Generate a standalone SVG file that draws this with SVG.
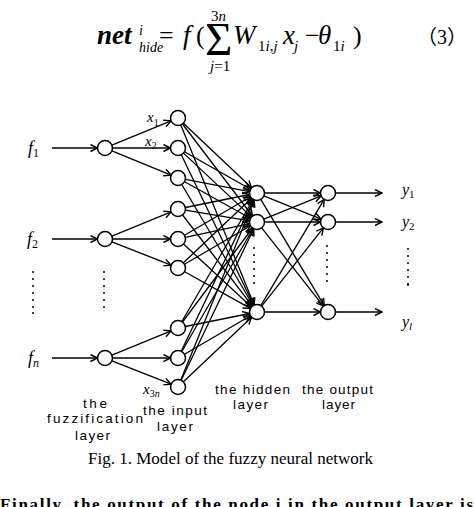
<svg xmlns="http://www.w3.org/2000/svg" width="474" height="507" viewBox="0 0 474 507">
<style>
.n{fill:#fff;stroke:#000;stroke-width:1.5}
.c line{stroke:#000;stroke-width:1.3;marker-end:url(#ah)}
.m{font-family:"Liberation Serif","Times New Roman",serif;fill:#000}
.it{font-style:italic}
.lb{font-family:"Liberation Sans",Arial,sans-serif;font-size:13.5px;fill:#000}
.d{fill:#000}
</style>
<defs>
<marker id="ah" markerUnits="userSpaceOnUse" markerWidth="9" markerHeight="9" viewBox="0 0 9 9" refX="8" refY="4.5" orient="auto">
<path d="M1,1 L8,4.5 L1,8" fill="none" stroke="#000" stroke-width="1.4"/>
</marker>
<g id="dots6"><circle cx="0" cy="0" r="1" class="d"/><circle cx="0" cy="7" r="1" class="d"/><circle cx="0" cy="14" r="1" class="d"/><circle cx="0" cy="21" r="1" class="d"/><circle cx="0" cy="28" r="1" class="d"/><circle cx="0" cy="35" r="1" class="d"/></g>
</defs>
<rect width="474" height="507" fill="#fff"/>

<g id="formula" class="m">
<text x="97" y="44" font-size="27" font-weight="bold" class="it">net</text>
<text x="139" y="35" font-size="14" class="it">i</text>
<text x="139" y="52" font-size="14" class="it">hide</text>
<text x="159" y="44" font-size="26">=</text>
<text x="183" y="44" font-size="27" class="it">f</text>
<text x="196" y="44" font-size="26">(</text>
<text x="205" y="55" font-size="47">Σ</text>
<text x="211" y="21" font-size="15">3<tspan class="it">n</tspan></text>
<text x="210" y="71" font-size="15"><tspan class="it">j</tspan>=1</text>
<text x="233" y="44" font-size="27" class="it">W</text>
<text x="258" y="51" font-size="15">1<tspan class="it">i</tspan>,<tspan class="it">j</tspan></text>
<text x="283" y="44" font-size="27" class="it">x</text>
<text x="294" y="51" font-size="15" class="it">j</text>
<text x="305" y="44" font-size="26">−</text>
<text x="318" y="44" font-size="27" class="it">θ</text>
<text x="333" y="51" font-size="15">1<tspan class="it">i</tspan></text>
<text x="353" y="44" font-size="26">)</text>
<text x="417" y="44" font-size="20" font-family="'Liberation Serif','Noto Sans CJK SC',serif">（3）</text>
</g>

<g class="c" id="connectors">
<line x1="52" y1="148" x2="97.5" y2="148"/>
<line x1="52" y1="239" x2="97.5" y2="239"/>
<line x1="52" y1="358" x2="97.5" y2="358"/>

<line x1="111.9" y1="145.1" x2="171.1" y2="120.9"/>
<line x1="112.5" y1="148" x2="170.5" y2="148"/>
<line x1="111.9" y1="150.9" x2="171.1" y2="175.1"/>
<line x1="111.9" y1="236.1" x2="171.1" y2="211.9"/>
<line x1="112.5" y1="239" x2="170.5" y2="239"/>
<line x1="111.9" y1="241.8" x2="171.1" y2="265.2"/>
<line x1="111.9" y1="355.2" x2="171.1" y2="330.9"/>
<line x1="112.5" y1="358" x2="170.5" y2="358"/>
<line x1="111.9" y1="360.8" x2="171.1" y2="384.2"/>

<line x1="183.4" y1="123.2" x2="251.6" y2="187.8"/>
<line x1="184.5" y1="151.7" x2="250.5" y2="189.3"/>
<line x1="185.4" y1="179.4" x2="249.6" y2="191.6"/>
<line x1="185.4" y1="207.5" x2="249.6" y2="194.5"/>
<line x1="184.5" y1="235.2" x2="250.5" y2="196.8"/>
<line x1="183.4" y1="262.8" x2="251.6" y2="198.2"/>
<line x1="181.8" y1="321.5" x2="253.2" y2="199.5"/>
<line x1="181.2" y1="351.2" x2="253.8" y2="199.8"/>
<line x1="180.8" y1="380.1" x2="254.2" y2="199.9"/>

<line x1="182.5" y1="124.0" x2="252.5" y2="216.0"/>
<line x1="183.5" y1="153.1" x2="251.5" y2="216.9"/>
<line x1="184.6" y1="181.7" x2="250.4" y2="218.3"/>
<line x1="185.4" y1="210.2" x2="249.6" y2="220.8"/>
<line x1="185.3" y1="237.4" x2="249.7" y2="223.6"/>
<line x1="184.5" y1="264.2" x2="250.5" y2="225.8"/>
<line x1="182.5" y1="322.0" x2="252.5" y2="228.0"/>
<line x1="181.8" y1="351.5" x2="253.2" y2="228.5"/>
<line x1="181.2" y1="380.2" x2="253.8" y2="228.8"/>

<line x1="180.8" y1="125.0" x2="254.2" y2="305.1"/>
<line x1="181.3" y1="154.8" x2="253.7" y2="305.2"/>
<line x1="181.8" y1="184.5" x2="253.2" y2="305.5"/>
<line x1="182.6" y1="215.0" x2="252.4" y2="306.1"/>
<line x1="183.5" y1="244.1" x2="251.5" y2="306.9"/>
<line x1="184.6" y1="271.7" x2="250.4" y2="308.4"/>
<line x1="185.4" y1="326.5" x2="249.6" y2="313.5"/>
<line x1="184.5" y1="354.2" x2="250.5" y2="315.8"/>
<line x1="183.4" y1="381.8" x2="251.6" y2="317.2"/>

<line x1="264.5" y1="193" x2="320.5" y2="193"/>
<line x1="263.9" y1="195.8" x2="321.1" y2="219.2"/>
<line x1="260.8" y1="199.4" x2="324.2" y2="305.6"/>
<line x1="263.9" y1="219.2" x2="321.1" y2="195.8"/>
<line x1="264.5" y1="222" x2="320.5" y2="222"/>
<line x1="261.7" y1="227.9" x2="323.4" y2="306.1"/>
<line x1="260.8" y1="305.6" x2="324.2" y2="199.4"/>
<line x1="261.7" y1="306.1" x2="323.4" y2="227.9"/>
<line x1="264.5" y1="312" x2="320.5" y2="312"/>

<line x1="335.5" y1="193" x2="382" y2="193"/>
<line x1="335.5" y1="222" x2="382" y2="222"/>
<line x1="335.5" y1="312" x2="382" y2="312"/>
</g>

<g id="fuzz1"><circle class="n" cx="105" cy="148" r="7.5"/></g>
<g id="fuzz2"><circle class="n" cx="105" cy="239" r="7.5"/></g>
<g id="fuzzn"><circle class="n" cx="105" cy="358" r="7.5"/></g>

<g id="in1"><circle class="n" cx="178" cy="118" r="7.5"/></g>
<g id="in2"><circle class="n" cx="178" cy="148" r="7.5"/></g>
<g id="in3"><circle class="n" cx="178" cy="178" r="7.5"/></g>
<g id="in4"><circle class="n" cx="178" cy="209" r="7.5"/></g>
<g id="in5"><circle class="n" cx="178" cy="239" r="7.5"/></g>
<g id="in6"><circle class="n" cx="178" cy="268" r="7.5"/></g>
<g id="in7"><circle class="n" cx="178" cy="328" r="7.5"/></g>
<g id="in8"><circle class="n" cx="178" cy="358" r="7.5"/></g>
<g id="in9"><circle class="n" cx="178" cy="387" r="7.5"/></g>

<g id="hid1"><circle class="n" cx="257" cy="193" r="7.5"/></g>
<g id="hid2"><circle class="n" cx="257" cy="222" r="7.5"/></g>
<g id="hid3"><circle class="n" cx="257" cy="312" r="7.5"/></g>

<g id="out1"><circle class="n" cx="328" cy="193" r="7.5"/></g>
<g id="out2"><circle class="n" cx="328" cy="222" r="7.5"/></g>
<g id="out3"><circle class="n" cx="328" cy="312" r="7.5"/></g>

<g id="dots">
<use href="#dots6" x="33" y="272"/><circle cx="33" cy="313" r="1" class="d"/>
<use href="#dots6" x="104" y="272"/>
<use href="#dots6" x="254" y="248"/>
<use href="#dots6" x="327" y="246"/>
<use href="#dots6" x="408" y="249"/><circle cx="408" cy="285" r="1" class="d"/>
</g>

<g id="varlabels" class="m">
<text x="28" y="154" font-size="18" class="it">f<tspan font-size="12" font-style="normal" dy="3">1</tspan></text>
<text x="27" y="245" font-size="18" class="it">f<tspan font-size="12" font-style="normal" dy="3">2</tspan></text>
<text x="28" y="364" font-size="18" class="it">f<tspan font-size="12" dy="3">n</tspan></text>
<text x="147" y="122" font-size="15" class="it">x<tspan font-size="10" font-style="normal" dy="4">1</tspan></text>
<text x="145" y="146" font-size="15" class="it">x<tspan font-size="10" font-style="normal" dy="3">2</tspan></text>
<text x="143" y="394" font-size="15" class="it">x<tspan font-size="10" dy="3"><tspan font-style="normal">3</tspan>n</tspan></text>
<text x="402" y="195" font-size="16" class="it">y<tspan font-size="11" font-style="normal" dy="3">1</tspan></text>
<text x="402" y="227" font-size="16" class="it">y<tspan font-size="11" font-style="normal" dy="3">2</tspan></text>
<text x="402" y="327" font-size="16" class="it">y<tspan font-size="11" dy="3">l</tspan></text>
</g>

<g id="layerlabels" class="lb">
<text x="83" y="408" textLength="24" lengthAdjust="spacing">the</text>
<text x="47" y="423" textLength="96" lengthAdjust="spacing">fuzzification</text>
<text x="75" y="440" textLength="35" lengthAdjust="spacing">layer</text>
<text x="143" y="415" textLength="64" lengthAdjust="spacing">the input</text>
<text x="157" y="431" textLength="36" lengthAdjust="spacing">layer</text>
<text x="215" y="394" textLength="75" lengthAdjust="spacing">the hidden</text>
<text x="233" y="409" textLength="35" lengthAdjust="spacing">layer</text>
<text x="302" y="394" textLength="71" lengthAdjust="spacing">the output</text>
<text x="322" y="409" textLength="33" lengthAdjust="spacing">layer</text>
</g>

<text class="m" x="88" y="464" font-size="17" textLength="285" lengthAdjust="spacingAndGlyphs">Fig. 1. Model of the fuzzy neural network</text>
<text class="m" x="0" y="510" font-size="17" font-weight="bold" textLength="473" lengthAdjust="spacing">Finally, the output of the node  i  in the output layer is</text>
</svg>
